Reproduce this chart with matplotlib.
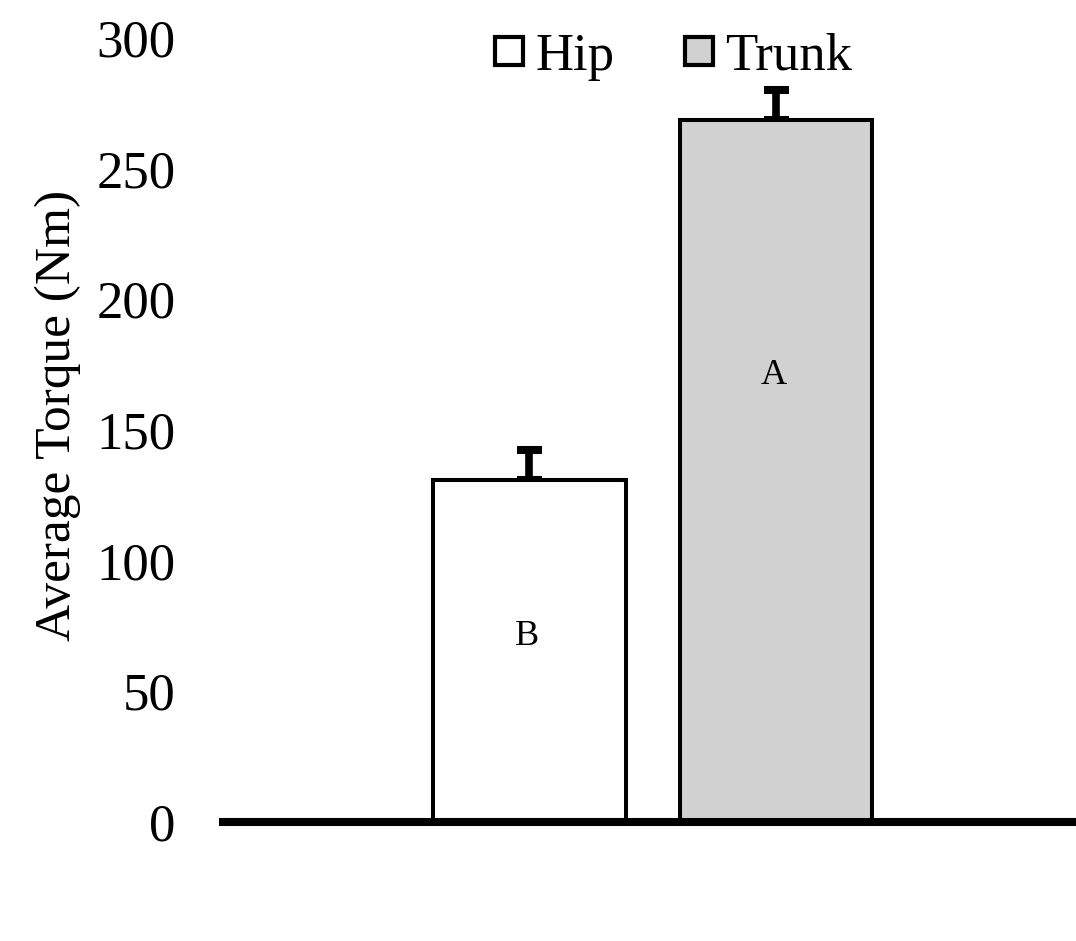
import matplotlib
matplotlib.use("Agg")
import matplotlib.pyplot as plt
from matplotlib.lines import Line2D

categories = ["Hip", "Trunk"]
values = [131, 268.5]
errors = [11.5, 11.5]
letters = ["B", "A"]
colors = ["white", "#d2d1d2"]
y_ticks = [0, 50, 100, 150, 200, 250, 300]

plt.rcParams['font.family'] = ['Liberation Serif', 'DejaVu Serif']

fig = plt.figure(figsize=(10.76, 9.41), dpi=100)
ax = fig.add_axes([223/1076, 119/941, 853/1076, 784/941])

x = [0, 1]
ax.bar(x, values, width=0.78, color=colors, edgecolor="black", linewidth=2.9, zorder=2)
ax.errorbar(x, values, yerr=[[0, 0], errors], fmt="none", ecolor="black",
            elinewidth=5.5, capsize=9, capthick=5.8, zorder=1)

letter_y = [71, 171]
for xi, ly, lt in zip(x, letter_y, letters):
    ax.text(xi - 0.01, ly, lt, ha="center", va="center", fontsize=26)

ax.set_xlim(-1.243, 2.217)
ax.set_ylim(0, 300)
ax.set_yticks(y_ticks)
ax.set_yticklabels([str(t) for t in y_ticks], fontsize=38)
ax.tick_params(axis="y", length=0, pad=34)
ax.set_xticks([])
for s in ["left", "right", "top"]:
    ax.spines[s].set_visible(False)
ax.spines["bottom"].set_linewidth(5.8)
ax.spines["bottom"].set_zorder(3)
ax.set_ylabel("Average Torque (Nm)", fontsize=37)
ax.yaxis.set_label_coords(-(223 - 81) / 853, 0.519)

handles = [Line2D([0], [0], marker="s", linestyle="none", markersize=20,
                  markerfacecolor=c, markeredgecolor="black", markeredgewidth=3)
           for c in colors]
leg = ax.legend(handles, categories, loc="center", bbox_to_anchor=(0.5275, 0.976),
                ncol=2, frameon=False, fontsize=38, handlelength=0.6,
                handletextpad=0.2, columnspacing=1.3, borderpad=0, borderaxespad=0)
leg.set_clip_on(False)

fig.savefig("out.png", dpi=100)
